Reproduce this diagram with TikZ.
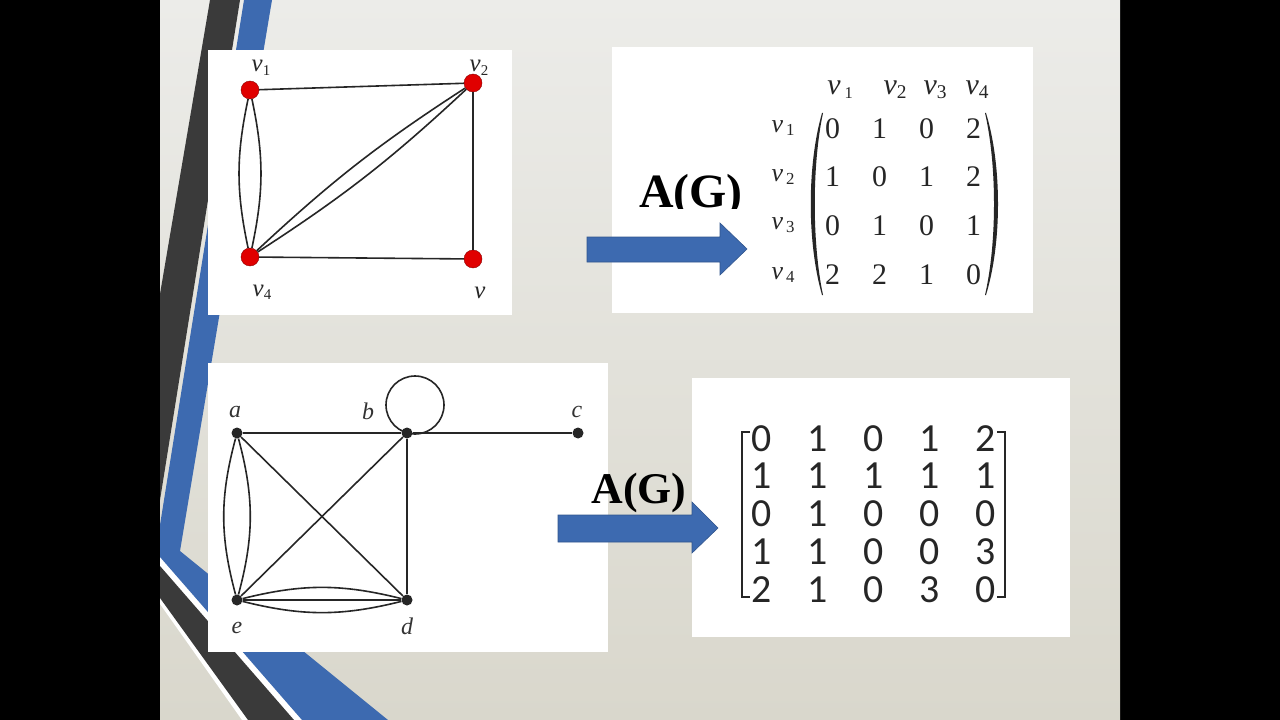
\documentclass[tikz,border=0pt]{standalone}
\usepackage{fontspec}
\setmainfont{Liberation Serif}
\newfontfamily\calfont{Carlito}
\usepackage{tikz}
\usetikzlibrary{calc}

\definecolor{slideblue}{RGB}{61,106,176}
\definecolor{slidedark}{RGB}{58,58,58}
\definecolor{nodered}{RGB}{224,0,0}

\newcommand{\vsub}[3]{\textit{v}\hspace{#1}\raisebox{-.3ex}{\scalebox{#2}{#3}}}
\newcommand{\pcell}[1]{\makebox[47bp]{#1}}
\newcommand{\bcell}[1]{\makebox[56bp]{#1}}

\begin{document}
\begin{tikzpicture}[x=1bp,y=-1bp,-,auto,
                    panel/.style={fill=white,draw=none},
                    red node/.style={circle,draw=red!55!black,fill=nodered,inner sep=0pt,minimum size=18bp},
                    dot node/.style={circle,fill=black!85,inner sep=0pt,minimum size=11bp},
                    vlabel/.style={font=\fontsize{25}{25}\selectfont,text=black!85,inner sep=0pt},
                    letter/.style={font=\fontsize{24}{24}\selectfont\itshape,text=black!80,inner sep=0pt},
                    head label/.style={font=\fontsize{30}{30}\selectfont,text=black!85,inner sep=0pt},
                    row label/.style={font=\fontsize{26}{26}\selectfont,text=black!85,inner sep=0pt},
                    ag label/.style={font=\fontsize{48}{48}\selectfont\bfseries,inner sep=0pt},
                    big arrow/.style={fill=slideblue,draw=slideblue!80!black,line width=0.6bp},
                    graph edge/.style={draw=black!85,line width=1.6bp},
                    bracket/.style={draw=black!85,line width=1.8bp}]

  % slide and side bars
  \useasboundingbox (0,0) rectangle (1280,720);
  \fill[black] (0,0) rectangle (1280,720);
  \shade[top color={rgb,255:red,236;green,236;blue,233},bottom color={rgb,255:red,217;green,215;blue,204}]
    (160,0) rectangle (1120,720);

  % stripes on the left
  \fill[slidedark] (210,0) -- (240,0) -- (160,500) -- (160,294) -- cycle;
  \fill[white] (160,556) -- (303,720) -- (242,720) -- (160,604) -- cycle;
  \fill[slideblue] (244,0) -- (272,0) -- (180,551) -- (388,720) -- (302,720)
    -- (160,557) -- (160,525) -- cycle;
  \fill[slidedark] (160,566) -- (294,720) -- (248,720) -- (160,598) -- cycle;

  % white panels
  \fill[panel] (208,50) rectangle (512,315);
  \fill[panel] (612,47) rectangle (1033,313);
  \fill[panel] (208,363) rectangle (608,652);
  \fill[panel] (692,378) rectangle (1070,637);

  % first graph
  \node[red node] (v1) at (250,90) {};
  \node[red node] (v2) at (473,83) {};
  \node[red node] (v3) at (473,259) {};
  \node[red node] (v4) at (250,257) {};

  \node[vlabel] (l1) at (261,68) {\vsub{0pt}{.6}{1}};
  \node[vlabel] (l2) at (479,68) {\vsub{0pt}{.6}{2}};
  \node[vlabel] (l4) at (262,292) {\vsub{0pt}{.6}{4}};
  \node[vlabel] (l3) at (480,293) {\textit{v}};

  \path[graph edge]
  (v1) edge (v2)
       edge[bend left=12] (v4)
       edge[bend right=12] (v4)
  (v2) edge (v3)
       edge[bend left=5] (v4)
       edge[bend right=5] (v4)
  (v3) edge (v4);

  % first matrix
  \node[head label] (h1) at (840,90) {\vsub{4bp}{.55}{1}};
  \node[head label] (h2) at (895,90) {\vsub{0pt}{.65}{2}};
  \node[head label] (h3) at (935,90) {\vsub{0pt}{.65}{3}};
  \node[head label] (h4) at (977,90) {\vsub{0pt}{.65}{4}};

  \node[row label] (r1) at (783,128) {\vsub{3bp}{.65}{1}};
  \node[row label] (r2) at (783,177) {\vsub{3bp}{.65}{2}};
  \node[row label] (r3) at (783,225) {\vsub{3bp}{.65}{3}};
  \node[row label] (r4) at (783,275) {\vsub{3bp}{.65}{4}};

  \node[align=center,inner sep=0pt,text=black!85,font=\fontsize{30}{49}\selectfont] (m1) at (903,201.5)
    {\pcell0\pcell1\pcell0\pcell2\\
     \pcell1\pcell0\pcell1\pcell2\\
     \pcell0\pcell1\pcell0\pcell1\\
     \pcell2\pcell2\pcell1\pcell0};

  \fill[black!85] (822,113) .. controls (807,165) and (807,243) .. (822,295)
    -- (823,295) .. controls (812,243) and (812,165) .. (823,113) -- cycle;
  \fill[black!85] (986,113) .. controls (1002,165) and (1002,243) .. (986,295)
    -- (985,295) .. controls (997,243) and (997,165) .. (985,113) -- cycle;

  \begin{scope}
    \clip (600,150) rectangle (780,209);
    \node[ag label,anchor=base] (ag1) at (691,208) {A(G)};
  \end{scope}

  \path[big arrow] (587,237) -- (720,237) -- (720,223) -- (747,249) -- (720,275)
    -- (720,262) -- (587,262) -- cycle;

  % second graph
  \node[dot node] (a) at (237,433) {};
  \node[dot node] (b) at (407,433) {};
  \node[dot node] (c) at (578,433) {};
  \node[dot node] (d) at (407,600) {};
  \node[dot node] (e) at (237,600) {};

  \node[letter] (la) at (235,412) {a};
  \node[letter] (lb) at (368,411) {b};
  \node[letter] (lc) at (577,412) {c};
  \node[letter] (ld) at (407,626) {d};
  \node[letter] (le) at (237,628) {e};

  \path[graph edge]
  (a) edge (b)
      edge (d)
      edge[bend left=15] (e)
      edge[bend right=15] (e)
  (b) edge (c)
      edge (d)
      edge (e)
  (e) edge (d)
      edge[bend left=14] (d)
      edge[bend right=14] (d);
  \draw[graph edge] (b.center) ++(8,-28) circle[radius=29];

  % second matrix
  \path[big arrow] (558,515) -- (692,515) -- (692,502) -- (718,528) -- (692,553)
    -- (692,542) -- (558,542) -- cycle;
  \node[ag label,font=\fontsize{44}{44}\selectfont\bfseries,anchor=base] (ag2) at (639,503) {A(G)};

  \node[align=center,inner sep=0pt,text=black!85,font=\calfont\fontsize{40}{38}\selectfont] (m2) at (873.5,514)
    {\bcell0\bcell1\bcell0\bcell1\bcell2\\
     \bcell1\bcell1\bcell1\bcell1\bcell1\\
     \bcell0\bcell1\bcell0\bcell0\bcell0\\
     \bcell1\bcell1\bcell0\bcell0\bcell3\\
     \bcell2\bcell1\bcell0\bcell3\bcell0};

  \draw[bracket] (750,432) -- (742,432) -- (742,597) -- (750,597);
  \draw[bracket] (997,432) -- (1005,432) -- (1005,597) -- (997,597);

\end{tikzpicture}
\end{document}
